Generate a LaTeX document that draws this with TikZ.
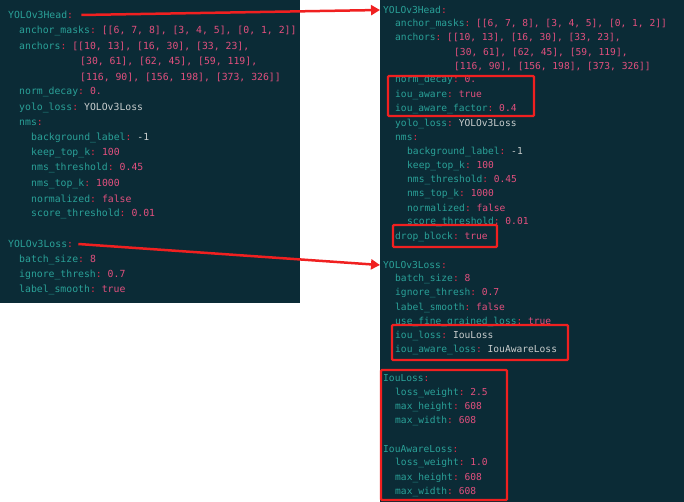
\documentclass[tikz,border=0pt]{standalone}
\usepackage{fontspec}
\usetikzlibrary{arrows.meta}
\setmonofont{DejaVu Sans Mono}
\definecolor{bgc}{HTML}{0B2B36}
\definecolor{keyc}{HTML}{2AA198}
\definecolor{valc}{HTML}{E2507E}
\definecolor{strc}{HTML}{C8CDCD}
\definecolor{colc}{HTML}{E0304A}
\definecolor{hl}{HTML}{F02020}
\newcommand\Kx[1]{\textcolor{keyc}{#1}\textcolor{colc}{:}}
\newcommand\Vx[1]{\textcolor{valc}{#1}}
\newcommand\Sx[1]{\textcolor{strc}{#1}}
\tikzset{
 ltxt/.style={anchor=west,inner sep=0,font=\ttfamily\fontsize{9.8}{10}\selectfont},
 rtxt/.style={anchor=west,inner sep=0,font=\ttfamily\fontsize{9.6}{10}\selectfont},
 hbox/.style={draw=hl,line width=2.2pt,rounded corners=1pt},
 harrow/.style={draw=hl,line width=2.5pt,-{Triangle[length=9pt,width=10pt]}}
}
\begin{document}
\begin{tikzpicture}[x=1pt,y=-1pt]
\useasboundingbox (0,0) rectangle (684,502);
\fill[bgc] (0,0) rectangle (300,303);
\fill[bgc] (380,0) rectangle (684,502);
% left panel
\node[ltxt] (lhead) at (8,15) {\Kx{YOLOv3Head}};
\node[ltxt] (l2) at (19,31) {\Kx{anchor\_masks} \Vx{[[6, 7, 8], [3, 4, 5], [0, 1, 2]]}};
\node[ltxt] (l3) at (19,46) {\Kx{anchors} \Vx{[[10, 13], [16, 30], [33, 23],}};
\node[ltxt] (l4) at (80,61) {\Vx{[30, 61], [62, 45], [59, 119],}};
\node[ltxt] (l5) at (80,77) {\Vx{[116, 90], [156, 198], [373, 326]]}};
\node[ltxt] (l6) at (19,92) {\Kx{norm\_decay} \Vx{0.}};
\node[ltxt] (l7) at (19,108) {\Kx{yolo\_loss} \Sx{YOLOv3Loss}};
\node[ltxt] (l8) at (19,123) {\Kx{nms}};
\node[ltxt] (l9) at (31,138) {\Kx{background\_label} \Sx{-1}};
\node[ltxt] (l10) at (31,153) {\Kx{keep\_top\_k} \Vx{100}};
\node[ltxt] (l11) at (31,168) {\Kx{nms\_threshold} \Vx{0.45}};
\node[ltxt] (l12) at (31,184) {\Kx{nms\_top\_k} \Vx{1000}};
\node[ltxt] (l13) at (31,199) {\Kx{normalized} \Vx{false}};
\node[ltxt] (l14) at (31,214) {\Kx{score\_threshold} \Vx{0.01}};
\node[ltxt] (lloss) at (8,244) {\Kx{YOLOv3Loss}};
\node[ltxt] (l16) at (19,260) {\Kx{batch\_size} \Vx{8}};
\node[ltxt] (l17) at (19,275) {\Kx{ignore\_thresh} \Vx{0.7}};
\node[ltxt] (l18) at (19,290) {\Kx{label\_smooth} \Vx{true}};
% right panel
\node[rtxt] (rhead) at (383,10) {\Kx{YOLOv3Head}};
\node[rtxt] (r2) at (395,24) {\Kx{anchor\_masks} \Vx{[[6, 7, 8], [3, 4, 5], [0, 1, 2]]}};
\node[rtxt] (r3) at (395,38) {\Kx{anchors} \Vx{[[10, 13], [16, 30], [33, 23],}};
\node[rtxt] (r4) at (454,53) {\Vx{[30, 61], [62, 45], [59, 119],}};
\node[rtxt] (r5) at (454,67) {\Vx{[116, 90], [156, 198], [373, 326]]}};
\node[rtxt] (r6) at (395,80) {\Kx{norm\_decay} \Vx{0.}};
\node[rtxt] (r7) at (395,95) {\Kx{iou\_aware} \Vx{true}};
\node[rtxt] (r8) at (395,109) {\Kx{iou\_aware\_factor} \Vx{0.4}};
\node[rtxt] (r9) at (395,124) {\Kx{yolo\_loss} \Sx{YOLOv3Loss}};
\node[rtxt] (r10) at (395,138) {\Kx{nms}};
\node[rtxt] (r11) at (407,152) {\Kx{background\_label} \Sx{-1}};
\node[rtxt] (r12) at (407,166) {\Kx{keep\_top\_k} \Vx{100}};
\node[rtxt] (r13) at (407,180) {\Kx{nms\_threshold} \Vx{0.45}};
\node[rtxt] (r14) at (407,194) {\Kx{nms\_top\_k} \Vx{1000}};
\node[rtxt] (r15) at (407,208) {\Kx{normalized} \Vx{false}};
\node[rtxt] (r16) at (407,222) {\Kx{score\_threshold} \Vx{0.01}};
\node[rtxt] (r17) at (395,237) {\Kx{drop\_block} \Vx{true}};
\node[rtxt] (rloss) at (383,265) {\Kx{YOLOv3Loss}};
\node[rtxt] (r19) at (395,279) {\Kx{batch\_size} \Vx{8}};
\node[rtxt] (r20) at (395,293) {\Kx{ignore\_thresh} \Vx{0.7}};
\node[rtxt] (r21) at (395,308) {\Kx{label\_smooth} \Vx{false}};
\node[rtxt] (r22) at (395,322) {\Kx{use\_fine\_grained\_loss} \Vx{true}};
\node[rtxt] (r23) at (395,336) {\Kx{iou\_loss} \Sx{IouLoss}};
\node[rtxt] (r24) at (395,350) {\Kx{iou\_aware\_loss} \Sx{IouAwareLoss}};
\node[rtxt] (r25) at (383,378) {\Kx{IouLoss}};
\node[rtxt] (r26) at (395,393) {\Kx{loss\_weight} \Vx{2.5}};
\node[rtxt] (r27) at (395,407) {\Kx{max\_height} \Vx{608}};
\node[rtxt] (r28) at (395,421) {\Kx{max\_width} \Vx{608}};
\node[rtxt] (r29) at (383,449) {\Kx{IouAwareLoss}};
\node[rtxt] (r30) at (395,463) {\Kx{loss\_weight} \Vx{1.0}};
\node[rtxt] (r31) at (395,478) {\Kx{max\_height} \Vx{608}};
\node[rtxt] (r32) at (395,492) {\Kx{max\_width} \Vx{608}};
% highlight boxes
\draw[hbox] (388,76) rectangle (534,116);
\draw[hbox] (393,225) rectangle (497,247);
\draw[hbox] (392,325) rectangle (568,360);
\draw[hbox] (381,370) rectangle (507,500);
% arrows
\draw[harrow] ([xshift=8pt]lhead.east) -- ([xshift=-3pt]rhead.west);
\draw[harrow] ([xshift=5pt]lloss.east) -- ([xshift=-3pt]rloss.west);
\end{tikzpicture}
\end{document}
